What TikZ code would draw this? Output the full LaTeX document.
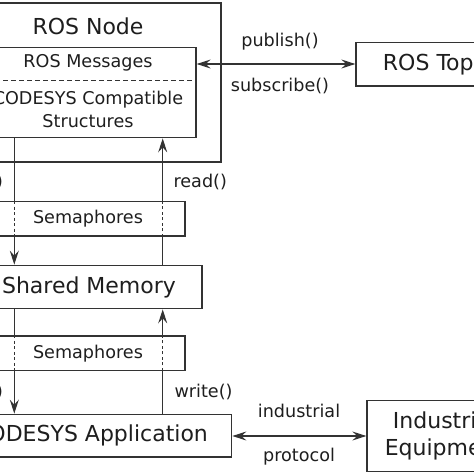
\documentclass[tikz,border=0pt]{standalone}
\usepackage{fontspec}
\setmainfont{DejaVu Sans}
\usetikzlibrary{arrows.meta}
\definecolor{ln}{HTML}{333333}
\definecolor{tx}{HTML}{1E1E1E}
\begin{document}
\begin{tikzpicture}[x=1pt,y=-1pt,
  box/.style={draw=ln,line width=1.3pt,inner sep=0pt,rectangle,text=tx},
  big/.style={font=\fontsize{22}{26}\selectfont,text=tx},
  small/.style={font=\fontsize{17.6}{22.7}\selectfont,text=tx},
  conn/.style={draw=ln,line width=1.2pt},
  tip/.style={-{Stealth[length=14pt,width=9pt,inset=5pt]}},
  dtip/.style={{Stealth[length=14pt,width=9pt,inset=5pt]}-{Stealth[length=14pt,width=9pt,inset=5pt]}},
  dots/.style={dash pattern=on 3pt off 2.5pt}]
\useasboundingbox (0,0) rectangle (474,474);
\clip (0,0) rectangle (474,474);
\fill[white] (0,0) rectangle (474,474);
% left column boxes
\node[box,line width=1.8pt,minimum width=265.4pt,minimum height=159.3pt] (rosnode) at (88,82.35) {};
\node[big] (rostitle) at (88,26) {ROS Node};
\node[box,minimum width=216pt,minimum height=90pt] (rosmsg) at (88,92.7) {};
\node[small] (msgtxt) at (88,62.7) {ROS Messages};
\node[small,align=center] (cmptxt) at (88,109.5) {CODESYS Compatible\\Structures};
\draw[ln,line width=1.1pt,dash pattern=on 5pt off 3pt] (rosmsg.west |- 0,80.7) coordinate (dl) -- (rosmsg.east |- 0,80.7) coordinate (dr);
\node[box,small,minimum width=194pt,minimum height=34.3pt] (sem1) at (88,218.85) {Semaphores};
\node[box,big,minimum width=226pt,minimum height=43.4pt] (shm) at (89,287) {Shared Memory};
\node[box,small,minimum width=194pt,minimum height=34.3pt] (sem2) at (88,353.15) {Semaphores};
\node[box,big,minimum width=282.4pt,minimum height=42.7pt] (cds) at (90.5,435.65) {CODESYS Application};
% right boxes
\node[box,big,minimum width=162.8pt,minimum height=43.7pt] (topic) at (437.4,64.15) {ROS Topic};
\node[box,big,align=center,minimum width=155pt,minimum height=71pt,font=\fontsize{22}{27.3}\selectfont] (ie) at (444.5,435.8) {Industrial\\Equipment};
% vertical columns
\coordinate (lx) at (14.3,0);
\coordinate (rx) at (162.7,0);
% left: ROS node -> shared memory
\draw[conn] (rosmsg.south -| lx) -- (sem1.north -| lx);
\draw[conn,dots] (sem1.north -| lx) -- (sem1.south -| lx);
\draw[conn,tip] (sem1.south -| lx) -- (shm.north -| lx);
% left: shared memory -> CODESYS
\draw[conn] (shm.south -| lx) -- (sem2.north -| lx);
\draw[conn,dots] (sem2.north -| lx) -- (sem2.south -| lx);
\draw[conn,tip] (sem2.south -| lx) -- (cds.north -| lx);
% right: shared memory -> ROS node (read)
\draw[conn] (shm.north -| rx) -- (sem1.south -| rx);
\draw[conn,dots] (sem1.south -| rx) -- (sem1.north -| rx);
\draw[conn,tip] (sem1.north -| rx) -- (rosmsg.south -| rx);
% right: CODESYS -> shared memory (write)
\draw[conn] (cds.north -| rx) -- (sem2.south -| rx);
\draw[conn,dots] (sem2.south -| rx) -- (sem2.north -| rx);
\draw[conn,tip] (sem2.north -| rx) -- (shm.south -| rx);
% labels of vertical arrows
\node[small,anchor=west] (lread) at (170,181.7) {read()};
\node[small,anchor=west] (lwrite) at (171,392) {write()};
\node[small,anchor=east] (lw1) at (6.5,181.7) {write()};
\node[small,anchor=east] (lr2) at (6.5,391.7) {read()};
% horizontal arrows
\draw[conn,dtip] (rosmsg.east |- 0,64) -- (topic.west |- 0,64);
\node[small] (pub) at (280,42) {publish()};
\node[small] (sub) at (280,86) {subscribe()};
\draw[conn,dtip] (cds.east |- 0,436) -- (ie.west |- 0,436);
\node[small] (ind) at (299,411.3) {industrial};
\node[small] (prot) at (299,457) {protocol};
\end{tikzpicture}
\end{document}
